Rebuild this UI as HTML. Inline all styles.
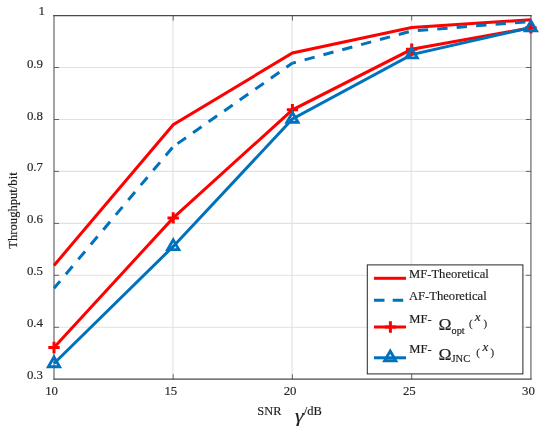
<!DOCTYPE html><html><head><meta charset="utf-8"><title>Throughput vs SNR</title><style>html,body{margin:0;padding:0;background:#fff}text{stroke:#222;stroke-width:0.16px}</style></head><body><svg width="550" height="432" viewBox="0 0 550 432" style="display:block;font-family:'Liberation Serif',serif">
<rect width="550" height="432" fill="#fff"/>
<line x1="172.9" x2="172.9" y1="15.6" y2="379.2" stroke="#eaeaea" stroke-width="1.6"/>
<line x1="292.1" x2="292.1" y1="15.6" y2="379.2" stroke="#eaeaea" stroke-width="1.6"/>
<line x1="411.4" x2="411.4" y1="15.6" y2="379.2" stroke="#eaeaea" stroke-width="1.6"/>
<line x1="54.0" x2="530.9" y1="327.3" y2="327.3" stroke="#e1e1e1" stroke-width="1.1"/>
<line x1="54.0" x2="530.9" y1="275.3" y2="275.3" stroke="#e1e1e1" stroke-width="1.1"/>
<line x1="54.0" x2="530.9" y1="223.4" y2="223.4" stroke="#e1e1e1" stroke-width="1.1"/>
<line x1="54.0" x2="530.9" y1="171.4" y2="171.4" stroke="#e1e1e1" stroke-width="1.1"/>
<line x1="54.0" x2="530.9" y1="119.5" y2="119.5" stroke="#e1e1e1" stroke-width="1.1"/>
<line x1="54.0" x2="530.9" y1="67.5" y2="67.5" stroke="#e1e1e1" stroke-width="1.1"/>
<path d="M54.0,15.6V379.2M530.9,15.6V379.2" fill="none" stroke="#858585" stroke-width="1.5"/>
<path d="M53.2,15.6H531.6999999999999M53.2,379.2H531.6999999999999" fill="none" stroke="#4a4a4a" stroke-width="1.2"/>
<line x1="173.2" x2="173.2" y1="379.2" y2="374.2" stroke="#444" stroke-width="0.8"/>
<line x1="173.2" x2="173.2" y1="15.6" y2="20.6" stroke="#444" stroke-width="0.8"/>
<line x1="292.4" x2="292.4" y1="379.2" y2="374.2" stroke="#444" stroke-width="0.8"/>
<line x1="292.4" x2="292.4" y1="15.6" y2="20.6" stroke="#444" stroke-width="0.8"/>
<line x1="411.7" x2="411.7" y1="379.2" y2="374.2" stroke="#444" stroke-width="0.8"/>
<line x1="411.7" x2="411.7" y1="15.6" y2="20.6" stroke="#444" stroke-width="0.8"/>
<line x1="54.0" x2="59.0" y1="327.3" y2="327.3" stroke="#444" stroke-width="0.8"/>
<line x1="530.9" x2="525.9" y1="327.3" y2="327.3" stroke="#444" stroke-width="0.8"/>
<line x1="54.0" x2="59.0" y1="275.3" y2="275.3" stroke="#444" stroke-width="0.8"/>
<line x1="530.9" x2="525.9" y1="275.3" y2="275.3" stroke="#444" stroke-width="0.8"/>
<line x1="54.0" x2="59.0" y1="223.4" y2="223.4" stroke="#444" stroke-width="0.8"/>
<line x1="530.9" x2="525.9" y1="223.4" y2="223.4" stroke="#444" stroke-width="0.8"/>
<line x1="54.0" x2="59.0" y1="171.4" y2="171.4" stroke="#444" stroke-width="0.8"/>
<line x1="530.9" x2="525.9" y1="171.4" y2="171.4" stroke="#444" stroke-width="0.8"/>
<line x1="54.0" x2="59.0" y1="119.5" y2="119.5" stroke="#444" stroke-width="0.8"/>
<line x1="530.9" x2="525.9" y1="119.5" y2="119.5" stroke="#444" stroke-width="0.8"/>
<line x1="54.0" x2="59.0" y1="67.5" y2="67.5" stroke="#444" stroke-width="0.8"/>
<line x1="530.9" x2="525.9" y1="67.5" y2="67.5" stroke="#444" stroke-width="0.8"/>
<text x="51.6" y="394.9" font-size="12.8" text-anchor="middle" fill="#2a2a2a">10</text>
<text x="170.8" y="394.9" font-size="12.8" text-anchor="middle" fill="#2a2a2a">15</text>
<text x="290.1" y="394.9" font-size="12.8" text-anchor="middle" fill="#2a2a2a">20</text>
<text x="409.3" y="394.9" font-size="12.8" text-anchor="middle" fill="#2a2a2a">25</text>
<text x="528.5" y="394.9" font-size="12.8" text-anchor="middle" fill="#2a2a2a">30</text>
<text x="43" y="379.2" font-size="12.9" text-anchor="end" fill="#2a2a2a">0.3</text>
<text x="43" y="327.3" font-size="12.9" text-anchor="end" fill="#2a2a2a">0.4</text>
<text x="43" y="275.3" font-size="12.9" text-anchor="end" fill="#2a2a2a">0.5</text>
<text x="43" y="223.4" font-size="12.9" text-anchor="end" fill="#2a2a2a">0.6</text>
<text x="43" y="171.4" font-size="12.9" text-anchor="end" fill="#2a2a2a">0.7</text>
<text x="43" y="119.5" font-size="12.9" text-anchor="end" fill="#2a2a2a">0.8</text>
<text x="43" y="67.5" font-size="12.9" text-anchor="end" fill="#2a2a2a">0.9</text>
<text x="45" y="15.0" font-size="12.9" text-anchor="end" fill="#2a2a2a">1</text>
<polyline points="54.00,265.45 173.22,124.70 292.45,53.00 411.67,27.50 530.90,19.70" fill="none" stroke="#ff0000" stroke-width="3" stroke-linejoin="miter"/>
<polyline points="54.00,288.30 173.22,146.60" fill="none" stroke="#0072bd" stroke-width="3" stroke-dasharray="10.4,9" stroke-dashoffset="1"/>
<polyline points="173.22,146.60 292.45,63.10" fill="none" stroke="#0072bd" stroke-width="3" stroke-dasharray="10.4,8.6" stroke-dashoffset="13.8"/>
<polyline points="292.45,63.10 411.67,31.00 530.90,21.50" fill="none" stroke="#0072bd" stroke-width="3" stroke-dasharray="10.4,9.1" stroke-dashoffset="6.9"/>
<polyline points="54.00,347.50 173.22,217.90 292.45,109.80 411.67,49.30 530.90,27.80" fill="none" stroke="#ff0000" stroke-width="3"/>
<polyline points="54.00,363.45 173.22,246.40 292.45,119.00 411.67,54.60 530.90,27.50" fill="none" stroke="#0072bd" stroke-width="3"/>
<path d="M48.3,347.5H59.7M54.0,341.8V353.2" stroke="#ff0000" stroke-width="3" fill="none"/>
<path d="M167.5,217.9H178.9M173.2,212.2V223.6" stroke="#ff0000" stroke-width="3" fill="none"/>
<path d="M286.8,109.8H298.1M292.4,104.1V115.5" stroke="#ff0000" stroke-width="3" fill="none"/>
<path d="M406.0,49.3H417.4M411.7,43.6V55.0" stroke="#ff0000" stroke-width="3" fill="none"/>
<path d="M525.2,27.8H536.6M530.9,22.1V33.5" stroke="#ff0000" stroke-width="3" fill="none"/>
<path d="M54.00,356.95L59.63,366.70H48.37Z" stroke="#0072bd" stroke-width="2.85" fill="none" stroke-linejoin="miter"/>
<path d="M173.22,239.90L178.85,249.65H167.59Z" stroke="#0072bd" stroke-width="2.85" fill="none" stroke-linejoin="miter"/>
<path d="M292.45,112.50L298.08,122.25H286.82Z" stroke="#0072bd" stroke-width="2.85" fill="none" stroke-linejoin="miter"/>
<path d="M411.67,48.10L417.30,57.85H406.04Z" stroke="#0072bd" stroke-width="2.85" fill="none" stroke-linejoin="miter"/>
<path d="M530.90,21.00L536.53,30.75H525.27Z" stroke="#0072bd" stroke-width="2.85" fill="none" stroke-linejoin="miter"/>
<rect x="367.3" y="264.9" width="155.6" height="109" fill="#fff" stroke="#262626" stroke-width="1"/>
<line x1="374" x2="406" y1="278.3" y2="278.3" stroke="#ff0000" stroke-width="3"/>
<line x1="374" x2="406" y1="300.2" y2="300.2" stroke="#0072bd" stroke-width="3" stroke-dasharray="10.5,8.2"/>
<line x1="374" x2="406" y1="327" y2="327" stroke="#ff0000" stroke-width="3"/>
<path d="M384.7,327.0H396.1M390.4,321.3V332.7" stroke="#ff0000" stroke-width="3" fill="none"/>
<line x1="374" x2="406" y1="357.8" y2="357.8" stroke="#0072bd" stroke-width="3"/>
<path d="M390.20,351.00L395.83,360.75H384.57Z" stroke="#0072bd" stroke-width="2.85" fill="none" stroke-linejoin="miter"/>
<text x="409" y="278" font-size="12.6" fill="#1c1c1c">MF-Theoretical</text>
<text x="409" y="299.5" font-size="12.6" fill="#1c1c1c">AF-Theoretical</text>
<text x="409.2" y="322.8" font-size="12.6" fill="#1c1c1c">MF-</text>
<text x="438.5" y="330.2" font-size="17.5" fill="#1c1c1c">Ω<tspan font-size="10.3" dy="3.4">opt</tspan></text>
<text x="468.9" y="326.6" font-size="10.8" fill="#1c1c1c">(</text><text x="474.8" y="320.8" font-size="13" font-style="italic" fill="#1c1c1c">x</text><text x="483.4" y="326.6" font-size="10.8" fill="#1c1c1c">)</text>
<text x="409.2" y="352.9" font-size="12.6" fill="#1c1c1c">MF-</text>
<text x="438.5" y="359.9" font-size="17.5" fill="#1c1c1c">Ω<tspan font-size="10.5" dy="2.4">JNC</tspan></text>
<text x="476.2" y="356.4" font-size="10.8" fill="#1c1c1c">(</text><text x="482.4" y="350.9" font-size="13" font-style="italic" fill="#1c1c1c">x</text><text x="490.6" y="356.4" font-size="10.8" fill="#1c1c1c">)</text>
<text transform="translate(16.7,210.5) rotate(-90)" font-size="12.6" text-anchor="middle" fill="#1c1c1c">Throughput/bit</text>
<text x="257.3" y="415.3" font-size="12.4" fill="#1c1c1c">SNR</text>
<text transform="translate(295,422.4) scale(1.18,1)" font-size="18.5" font-style="italic" fill="#1c1c1c">γ</text>
<text x="303.8" y="415.3" font-size="12.5" fill="#1c1c1c">/dB</text>
</svg></body></html>
